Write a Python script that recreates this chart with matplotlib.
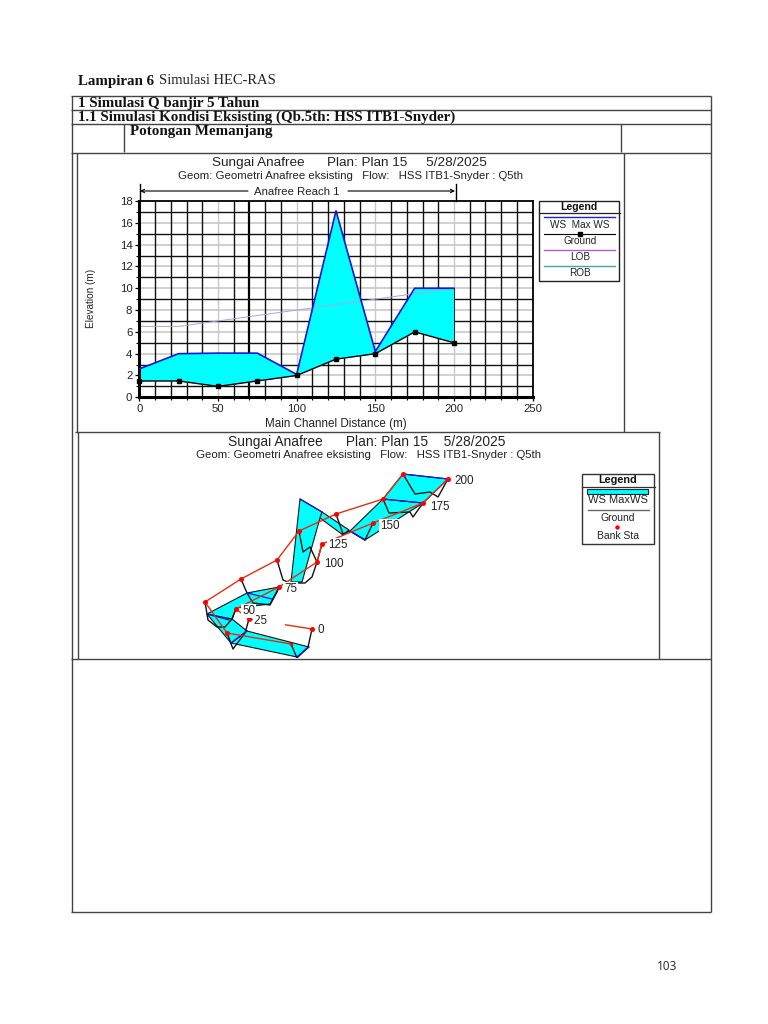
import matplotlib
matplotlib.use("Agg")
import matplotlib.pyplot as plt
from matplotlib.patches import Rectangle, Polygon
from matplotlib.ticker import MultipleLocator

plt.rcParams['font.family'] = ['Liberation Sans', 'DejaVu Sans']

# ---------- longitudinal profile data ----------
stations = [0, 25, 50, 75, 100, 125, 150, 175, 200]
ground = [1.5, 1.5, 1.0, 1.5, 2.0, 3.5, 4.0, 6.0, 5.0]
ws_max = [2.6, 4.0, 4.05, 4.05, 2.1, 17.1, 4.2, 10.0, 10.0]
faint_bank = [6.5, 6.5, 7.0, 7.5, 8.0, 8.5, 9.0, 9.5, 10.0]
x_black_grid = [10, 20, 30, 40, 60, 80, 90, 110, 120, 130, 140, 160, 170, 180, 190, 210, 220, 230, 240]
x_gray_grid = [50, 100, 150, 200]
x_thick_grid = [70]
y_black_grid = [1, 3, 5, 7, 9, 11, 13, 15, 17]
y_gray_grid = [2, 4, 6, 8, 10, 12, 14, 16]

# ---------- plan view data (sheet coordinates) ----------
plan_labels = ['0', '25     ', '50', '75', '100', '125', '150', '175', '200']
left_bank_x = [291, 227, 205, 241, 277, 299, 336, 383, 403]
left_bank_y = [644, 633, 602, 579, 560, 531, 514, 499, 474]
right_bank_x = [312, 249, 236, 279, 317, 322, 373, 423, 448]
right_bank_y = [629, 619, 609, 587, 562, 544, 523, 503, 479]
sections_x = [
    [291, 297, 308, 312],
    [227, 233, 245, 249],
    [205, 208, 217, 225, 232, 236],
    [241, 247, 253, 270, 277, 279],
    [277, 283, 290, 305, 312, 317],
    [299, 303, 310, 317, 322],
    [336, 343, 350, 365, 373],
    [383, 389, 410, 413, 423],
    [403, 415, 430, 438, 448],
]
sections_y = [
    [644, 658, 647, 629],
    [633, 649, 633, 619],
    [602, 620, 627, 627, 619, 609],
    [579, 593, 603, 605, 592, 587],
    [560, 580, 583, 583, 577, 562],
    [531, 552, 547, 562, 544],
    [514, 534, 531, 540, 523],
    [499, 513, 512, 517, 503],
    [474, 494, 492, 497, 479],
]
ws_left_x = [297, 231, 207, 247, 300, 350, 383, 403]
ws_left_y = [657, 643, 614, 593, 499, 531, 499, 474]
ws_right_x = [309, 247, 229, 272, 322, 365, 423, 448]
ws_right_y = [647, 631, 620, 599, 512, 540, 503, 479]
flood_parts_x = [
    [297, 309, 247, 231],
    [231, 247, 232, 207],
    [207, 232, 236, 270, 279, 247],
    [291, 300, 322, 320, 302],
    [322, 349, 343, 320],
    [350, 383, 423, 365],
    [383, 403, 448, 423],
]
flood_parts_y = [
    [657, 647, 631, 643],
    [643, 631, 619, 614],
    [614, 619, 608, 604, 587, 593],
    [582, 499, 512, 518, 582],
    [512, 530, 535, 518],
    [531, 499, 503, 540],
    [499, 474, 479, 503],
]
label_dx = [6, 5, 6, 5, 7, 6, 7, 7, 6]
label_dy = [1, 2, 2, 2, 2, 1, 3, 4, 2]

fig = plt.figure(figsize=(7.68, 10.24), dpi=100, facecolor='white')
W, H = 768.0, 1024.0


def box(l, t, r, b):
    return [l / W, 1 - b / H, (r - l) / W, (b - t) / H]


# ---------- document page ----------
page = fig.add_axes([0, 0, 1, 1])
page.set_xlim(0, W)
page.set_ylim(H, 0)
page.axis('off')
LC = '#444444'
for x0, x1, y in [(71, 711, 96), (71, 711, 110), (71, 711, 124), (71, 711, 152.5),
                  (75, 660, 432), (71, 711, 659), (71, 711, 912)]:
    page.plot([x0, x1], [y, y], color=LC, lw=1.0, solid_capstyle='butt')
for x, y0, y1 in [(71.5, 96, 912), (711, 96, 912), (124, 124, 152), (621, 124, 152),
                  (77, 153, 432), (623.5, 153, 432), (78, 432, 659), (659, 432, 659)]:
    page.plot([x, x], [y0, y1], color=LC, lw=1.0, solid_capstyle='butt')

serif = ['Liberation Serif', 'DejaVu Serif']
page.text(78, 81, 'Lampiran 6', family=serif, fontsize=10.8, weight='bold', va='center', color='#111111')
page.text(159, 81, 'Simulasi HEC-RAS', family=serif, fontsize=10.5, va='center', color='#222222')
page.text(78, 103, '1 Simulasi Q banjir 5 Tahun', family=serif, fontsize=10.8, weight='bold', va='center', color='#111111')
page.text(78, 117.5, '1.1 Simulasi Kondisi Eksisting (Qb.5th: HSS ITB1-Snyder)', family=serif, fontsize=10.8,
          weight='bold', va='center', color='#111111')
page.text(130, 132, 'Potongan Memanjang', family=serif, fontsize=10.8, weight='bold', va='center', color='#111111')
page.text(667, 966, '103', family=['Noto Sans', 'DejaVu Sans'], fontsize=8.5, ha='center', va='center', color='#333333')

# chart headings
page.text(349, 163, 'Sungai Anafree      Plan: Plan 15     5/28/2025', fontsize=9.7, ha='center', va='center', color='#222222')
page.text(351, 176, 'Geom: Geometri Anafree eksisting   Flow:   HSS ITB1-Snyder : Q5th', fontsize=8.2,
          ha='center', va='center', color='#222222')
page.text(367, 442, 'Sungai Anafree      Plan: Plan 15    5/28/2025', fontsize=9.9, ha='center', va='center', color='#222222')
page.text(368, 455, 'Geom: Geometri Anafree eksisting   Flow:   HSS ITB1-Snyder : Q5th', fontsize=8.2,
          ha='center', va='center', color='#222222')

# reach marker
page.plot([139.5, 139.5], [184, 201], color='black', lw=1.0)
page.plot([455.5, 455.5], [184, 201], color='black', lw=1.0)
page.annotate('', xy=(140, 191), xytext=(248, 191), arrowprops=dict(arrowstyle='->', color='black', lw=0.8, shrinkA=0, shrinkB=0, mutation_scale=6))
page.annotate('', xy=(455, 191), xytext=(348, 191), arrowprops=dict(arrowstyle='->', color='black', lw=0.8, shrinkA=0, shrinkB=0, mutation_scale=6))
page.text(297, 192, 'Anafree Reach 1', fontsize=8.2, ha='center', va='center', color='#222222')

# axis captions
page.text(91, 298, 'Elevation (m)', fontsize=7.2, rotation=90, ha='center', va='center', color='#222222')
page.text(336, 424, 'Main Channel Distance (m)', fontsize=8.4, ha='center', va='center', color='#222222')

# legend 1
page.add_patch(Rectangle((539, 201), 80, 80, fc='white', ec='#222222', lw=1))
page.plot([539, 620], [213, 213], color='#222222', lw=0.9)
page.text(579, 206.5, 'Legend', fontsize=7.6, weight='bold', ha='center', va='center', color='#111111')
page.plot([544, 615], [217, 217], color='#1f1fe0', lw=1.0)
page.text(580, 225, 'WS  Max WS', fontsize=7.2, ha='center', va='center', color='#222222')
page.plot([544, 615], [233.5, 233.5], color='black', lw=0.8)
page.plot([580], [233.5], 's', color='black', ms=3.2)
page.text(580, 241, 'Ground', fontsize=7.2, ha='center', va='center', color='#222222')
page.plot([544, 615], [249.5, 249.5], color='#b060c0', lw=1.0)
page.text(580, 257, 'LOB', fontsize=7.2, ha='center', va='center', color='#222222')
page.plot([544, 615], [266, 266], color='#40a8a8', lw=1.0)
page.text(580, 273, 'ROB', fontsize=7.2, ha='center', va='center', color='#222222')

# legend 2
page.add_patch(Rectangle((582, 474), 72, 70, fc='white', ec='#333333', lw=1))
page.plot([582, 655], [487, 487], color='#333333', lw=0.9)
page.text(618, 480, 'Legend', fontsize=7.8, weight='bold', ha='center', va='center', color='#111111')
page.add_patch(Rectangle((587, 489), 61, 4.5, fc='#00ffff', ec='#222222', lw=0.8))
page.text(618, 500, 'WS MaxWS', fontsize=8, ha='center', va='center', color='#222222')
page.plot([588, 649], [510, 510], color='#666666', lw=1.0)
page.text(618, 518, 'Ground', fontsize=7.5, ha='center', va='center', color='#222222')
page.plot([617], [527], 'o', color='red', ms=2.2)
page.text(618, 536, 'Bank Sta', fontsize=7.5, ha='center', va='center', color='#222222')

# ---------- profile axes ----------
ax = fig.add_axes(box(139.3, 201, 532.7, 397.3))
ax.set_xlim(0, 250)
ax.set_ylim(0, 18)
ax.patch.set_alpha(0)
for v in x_gray_grid:
    ax.axvline(v, color='#c8c8c8', lw=1.0, zorder=1)
for v in y_gray_grid:
    ax.axhline(v, color='#c8c8c8', lw=1.2, zorder=1)
for v in x_black_grid:
    ax.axvline(v, color='#111111', lw=1.0, zorder=1.2)
for v in x_thick_grid:
    ax.axvline(v, color='black', lw=1.6, zorder=1.2)
for v in y_black_grid:
    ax.axhline(v, color='#111111', lw=1.0, zorder=1.2)
ax.fill_between(stations, ground, ws_max, color='#00ffff', lw=0, zorder=2)
ax.plot(stations, faint_bank, color='#a8a8d8', lw=0.7, zorder=2.5)
ax.plot(stations, ws_max, color='#1414d8', lw=1.2, zorder=3)
ax.plot([stations[-1]] * 2, [ground[-1], ws_max[-1]], color='#222222', lw=0.7, zorder=3)
ax.plot(stations, ground, color='black', lw=1.0, marker='s', ms=3.2, zorder=4, clip_on=False)
ax.set_xticks(x_gray_grid[:3] + [0, 200, 250])
ax.xaxis.set_minor_locator(MultipleLocator(10))
ax.yaxis.set_major_locator(MultipleLocator(2))
ax.yaxis.set_minor_locator(MultipleLocator(1))
ax.tick_params(axis='both', which='major', labelsize=8.2, length=3, width=0.9, pad=2, labelcolor='#222222')
ax.tick_params(axis='both', which='minor', length=2, width=0.8)
ax.spines['left'].set_linewidth(2.2)
ax.spines['bottom'].set_linewidth(2.2)
ax.spines['top'].set_linewidth(1.3)
ax.spines['right'].set_linewidth(1.3)

# ---------- plan axes ----------
plan = fig.add_axes(box(79, 433, 658, 658))
plan.set_xlim(79, 658)
plan.set_ylim(658, 433)
plan.axis('off')
for px, py in zip(flood_parts_x, flood_parts_y):
    plan.add_patch(Polygon(list(zip(px, py)), closed=True, fc='#00ffff', ec='#111111', lw=0.8, zorder=1))
for sx, sy in zip(sections_x, sections_y):
    plan.plot(sx, sy, color='#111111', lw=1.0, zorder=2)
for a, b, c, d in zip(ws_left_x, ws_right_x, ws_left_y, ws_right_y):
    plan.plot([a, b], [c, d], color='#1414e0', lw=0.9, zorder=3)
plan.plot(left_bank_x, left_bank_y, color='#e03010', lw=1.0, zorder=4)
plan.plot(right_bank_x, right_bank_y, color='#e03010', lw=1.0, zorder=4)
plan.plot(left_bank_x[1:], left_bank_y[1:], 'o', color='red', ms=2.6, zorder=5)
plan.plot(left_bank_x[0], left_bank_y[0], 'o', color='red', ms=1.5, zorder=5)
plan.plot(right_bank_x, right_bank_y, 'o', color='red', ms=2.6, zorder=5)
for lab, x, y, dx, dy in zip(plan_labels, right_bank_x, right_bank_y, label_dx, label_dy):
    plan.text(x + dx, y + dy, lab, fontsize=8.4, ha='left', va='center', color='#222222', zorder=6,
              bbox=dict(fc='white', ec='none', pad=1.0))

fig.savefig('out.png', dpi=100, facecolor='white')
